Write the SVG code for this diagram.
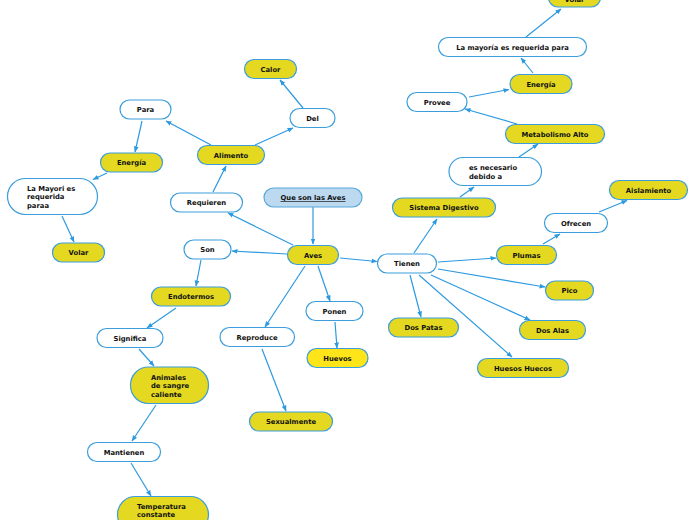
<svg xmlns="http://www.w3.org/2000/svg" width="697" height="520" viewBox="0 0 697 520">
<defs>
<marker id="arr" markerWidth="6" markerHeight="6" refX="5.5" refY="3" orient="auto" markerUnits="userSpaceOnUse">
<path d="M0,0.6 L6,3 L0,5.4 Z" fill="#2d9ae0"/>
</marker>
</defs>
<style>
.c line{stroke:#2d9ae0;stroke-width:1.2;marker-end:url(#arr)}
.y rect{fill:#e4d920;stroke:#3b9ddb;stroke-width:1.2}
.w rect{fill:#ffffff;stroke:#3b9ddb;stroke-width:1.2}
.h rect{fill:#fde51a;stroke:#3b9ddb;stroke-width:1.2}
.b rect{fill:#bcd9ef;stroke:#5aa8dc;stroke-width:1.2}
text{font-family:"DejaVu Sans","Liberation Sans",sans-serif;font-weight:bold;font-size:6.8px;fill:#111}
.m{text-anchor:middle}
</style>
<rect width="697" height="520" fill="#ffffff"/>
<g id="connectors" class="c">
<line x1="313" y1="207" x2="313" y2="244"/>
<line x1="211" y1="145" x2="166" y2="121"/>
<line x1="255" y1="145" x2="293" y2="128"/>
<line x1="303" y1="108" x2="280" y2="80"/>
<line x1="142" y1="121" x2="135" y2="152"/>
<line x1="107" y1="173" x2="93" y2="179.5"/>
<line x1="62" y1="216" x2="74" y2="242"/>
<line x1="213" y1="192" x2="226" y2="166"/>
<line x1="293" y1="245" x2="228" y2="213"/>
<line x1="287" y1="254" x2="232" y2="251"/>
<line x1="340" y1="258" x2="377" y2="261.5"/>
<line x1="414" y1="253" x2="437" y2="219"/>
<line x1="460" y1="197" x2="474" y2="187"/>
<line x1="519" y1="157" x2="538" y2="144"/>
<line x1="517" y1="124" x2="465" y2="109"/>
<line x1="469" y1="97" x2="509" y2="89.5"/>
<line x1="533" y1="73" x2="521" y2="58"/>
<line x1="526" y1="37" x2="561" y2="9"/>
<line x1="543" y1="244" x2="560" y2="234"/>
<line x1="599" y1="212" x2="627" y2="200.5"/>
<line x1="438" y1="262" x2="496" y2="258"/>
<line x1="438" y1="269" x2="545" y2="287"/>
<line x1="431" y1="275" x2="530" y2="320"/>
<line x1="419" y1="275" x2="512" y2="357"/>
<line x1="410" y1="275" x2="421" y2="317"/>
<line x1="201" y1="260" x2="196" y2="286"/>
<line x1="176" y1="308" x2="147" y2="328"/>
<line x1="139" y1="349" x2="154" y2="366"/>
<line x1="156" y1="405" x2="132" y2="441"/>
<line x1="131" y1="463" x2="151" y2="496"/>
<line x1="305" y1="266" x2="265" y2="327"/>
<line x1="318" y1="266" x2="330" y2="301"/>
<line x1="335" y1="322" x2="337" y2="348"/>
<line x1="262" y1="349" x2="286" y2="411"/>
</g>
<g id="n-que" class="b"><rect x="264" y="188" width="98" height="19" rx="9.5"/><text class="m" x="313" y="200" text-decoration="underline">Que son las Aves</text></g>
<g id="n-aves" class="y"><rect x="287.5" y="245.5" width="51" height="19" rx="9.5"/><text class="m" x="313" y="257.5">Aves</text></g>
<g id="n-requieren" class="w"><rect x="170.5" y="193" width="72" height="19" rx="9.5"/><text class="m" x="206.5" y="205">Requieren</text></g>
<g id="n-alimento" class="y"><rect x="197.5" y="145.5" width="67" height="19" rx="9.5"/><text class="m" x="231" y="157.5">Alimento</text></g>
<g id="n-para" class="w"><rect x="120" y="100" width="51" height="19" rx="9.5"/><text class="m" x="145.5" y="112">Para</text></g>
<g id="n-del" class="w"><rect x="290" y="108.5" width="45" height="19" rx="9.5"/><text class="m" x="312.5" y="120.5">Del</text></g>
<g id="n-calor" class="y"><rect x="244.5" y="59.5" width="52" height="19" rx="9.5"/><text class="m" x="270.5" y="71.5">Calor</text></g>
<g id="n-energia1" class="y"><rect x="100.5" y="153" width="62" height="19" rx="9.5"/><text class="m" x="131.5" y="165">Energía</text></g>
<g id="n-lamayori" class="w"><rect x="7.5" y="178.5" width="90" height="36" rx="18"/><text x="27" y="190.5">La Mayori es</text><text x="27" y="199">requerida</text><text x="27" y="207.5">paraa</text></g>
<g id="n-volar1" class="y"><rect x="52.5" y="243" width="52" height="19" rx="9.5"/><text class="m" x="78.5" y="255">Volar</text></g>
<g id="n-son" class="w"><rect x="184" y="240" width="47" height="19" rx="9.5"/><text class="m" x="207.5" y="252">Son</text></g>
<g id="n-endotermos" class="y"><rect x="151.5" y="287" width="79" height="19" rx="9.5"/><text class="m" x="191" y="299">Endotermos</text></g>
<g id="n-significa" class="w"><rect x="97" y="328.5" width="66" height="19" rx="9.5"/><text class="m" x="130" y="340.5">Significa</text></g>
<g id="n-animales" class="y"><rect x="130.5" y="367" width="78" height="36.5" rx="18"/><text x="151" y="379.7">Animales</text><text x="151" y="388.2">de sangre</text><text x="151" y="396.7">caliente</text></g>
<g id="n-mantienen" class="w"><rect x="87.5" y="442.5" width="73" height="19" rx="9.5"/><text class="m" x="124" y="454.5">Mantienen</text></g>
<g id="n-temperatura" class="y"><rect x="117.5" y="496.5" width="91" height="36" rx="18"/><text x="137" y="508.7">Temperatura</text><text x="137" y="516.7">constante</text></g>
<g id="n-reproduce" class="w"><rect x="220" y="327.5" width="74.5" height="19" rx="9.5"/><text class="m" x="257" y="339.5">Reproduce</text></g>
<g id="n-sexualmente" class="y"><rect x="249.5" y="412" width="83" height="19" rx="9.5"/><text class="m" x="291" y="424">Sexualmente</text></g>
<g id="n-ponen" class="w"><rect x="306" y="301.5" width="57" height="19" rx="9.5"/><text class="m" x="334.5" y="313.5">Ponen</text></g>
<g id="n-huevos" class="h"><rect x="307" y="348.5" width="61" height="19" rx="9.5"/><text class="m" x="337.5" y="360.5">Huevos</text></g>
<g id="n-tienen" class="w"><rect x="377.5" y="254" width="59" height="19" rx="9.5"/><text class="m" x="407" y="266">Tienen</text></g>
<g id="n-sistema" class="y"><rect x="392.5" y="198" width="103" height="19" rx="9.5"/><text class="m" x="444" y="210">Sistema Digestivo</text></g>
<g id="n-esnecesario" class="w"><rect x="449" y="157.5" width="92.5" height="28" rx="14"/><text x="469" y="169.5">es necesario</text><text x="469" y="178.7">debido a</text></g>
<g id="n-metabolismo" class="y"><rect x="505.5" y="124.5" width="99" height="19" rx="9.5"/><text class="m" x="555" y="136.5">Metabolismo Alto</text></g>
<g id="n-provee" class="w"><rect x="407" y="92.5" width="60" height="19" rx="9.5"/><text class="m" x="437" y="104.5">Provee</text></g>
<g id="n-energia2" class="y"><rect x="510" y="74.5" width="62" height="19" rx="9.5"/><text class="m" x="541" y="86.5">Energía</text></g>
<g id="n-lamayoria" class="w"><rect x="438.5" y="37.5" width="148" height="19" rx="9.5"/><text class="m" x="512.5" y="49.5">La mayoría es requerida para</text></g>
<g id="n-volar2" class="y"><rect x="548.5" y="-12" width="52" height="19" rx="9.5"/><text class="m" x="574.5" y="1.5">Volar</text></g>
<g id="n-plumas" class="y"><rect x="496.5" y="245.5" width="60" height="19" rx="9.5"/><text class="m" x="526.5" y="257.5">Plumas</text></g>
<g id="n-ofrecen" class="w"><rect x="544.5" y="213.5" width="63" height="19" rx="9.5"/><text class="m" x="576" y="225.5">Ofrecen</text></g>
<g id="n-aislamiento" class="y"><rect x="609.5" y="180.5" width="78" height="19" rx="9.5"/><text class="m" x="648.5" y="192.5">Aislamiento</text></g>
<g id="n-pico" class="y"><rect x="545.5" y="281" width="48" height="19" rx="9.5"/><text class="m" x="569.5" y="293">Pico</text></g>
<g id="n-dosalas" class="y"><rect x="519.5" y="320.5" width="66" height="19" rx="9.5"/><text class="m" x="552.5" y="332.5">Dos Alas</text></g>
<g id="n-dospatas" class="y"><rect x="388.5" y="318" width="70" height="19" rx="9.5"/><text class="m" x="423.5" y="330">Dos Patas</text></g>
<g id="n-huesos" class="y"><rect x="477.5" y="358.5" width="91" height="19" rx="9.5"/><text class="m" x="523" y="370.5">Huesos Huecos</text></g>
</svg>
